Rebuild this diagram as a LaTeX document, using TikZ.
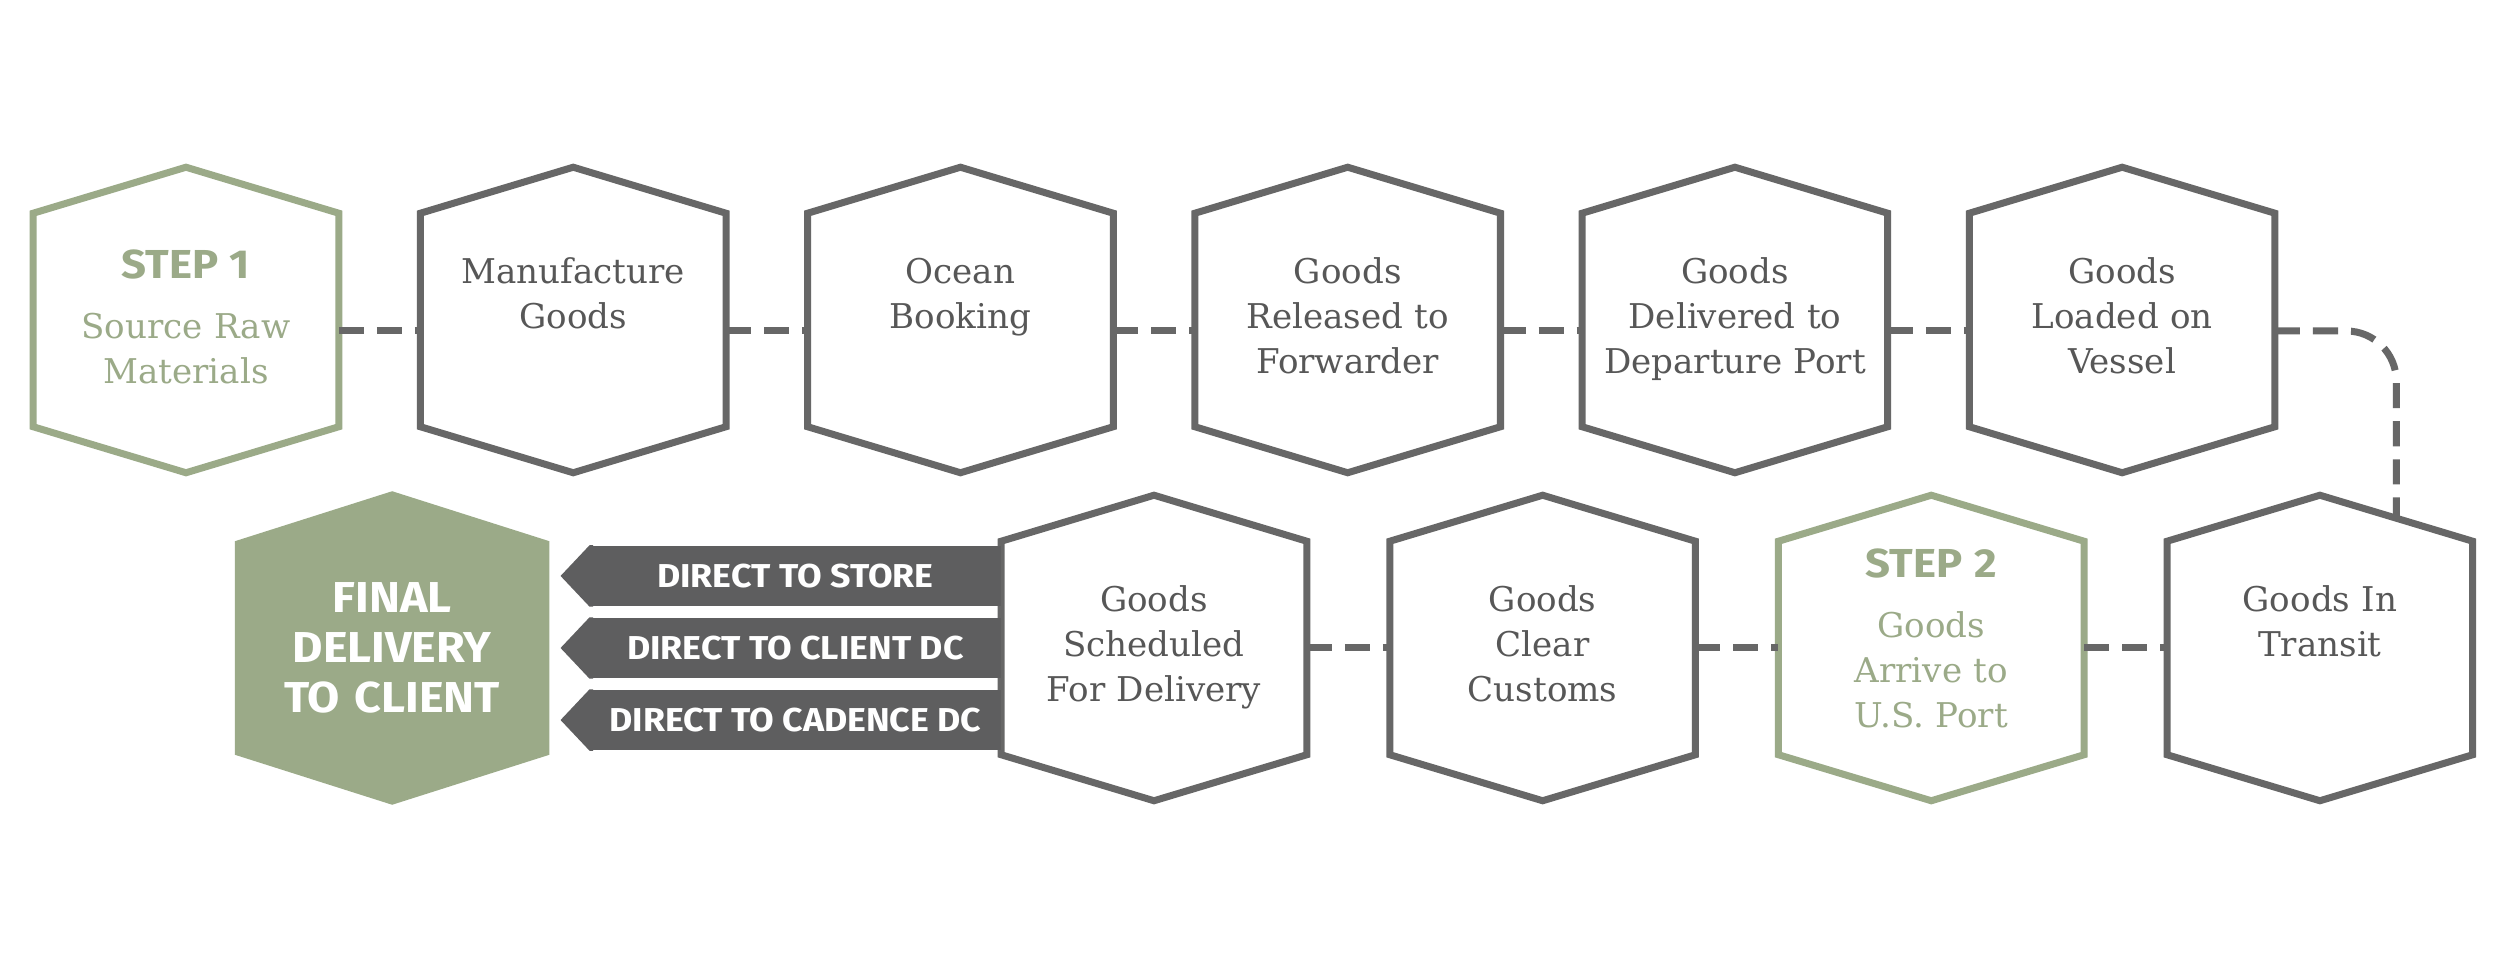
\documentclass[tikz,border=0pt]{standalone}
\usepackage{fontspec}
\setmainfont{DejaVu Serif}
\newfontfamily\capsfont{Fira Sans}[FakeStretch=1.08]
\usetikzlibrary{positioning,calc,backgrounds}

\definecolor{sage}{HTML}{9BAA88}
\definecolor{slate}{HTML}{676767}
\definecolor{bandgrey}{HTML}{5E5E5F}
\definecolor{inkgrey}{HTML}{575757}

\newcommand\stepfont{\capsfont\bfseries\fontsize{11.5}{12.8}\selectfont}

\begin{document}
\begin{tikzpicture}[x=0.01cm, y=0.01cm,
	hexnode/.style={rectangle, minimum width=3.04cm, minimum height=2.12cm, inner sep=0pt, text width=2.9cm, align=center},
	greynode/.style={hexnode, text=inkgrey, font=\fontsize{9.7}{12.76}\selectfont, text height=0.3cm, text depth=1.02cm},
	stepnode/.style={hexnode, text=sage, font=\fontsize{9.7}{12.76}\selectfont, text height=0.28cm},
	finalnode/.style={hexnode, minimum width=3.13cm, text=white, font=\capsfont\bfseries\fontsize{12.3}{14.2}\selectfont},
	bandnode/.style={rectangle, fill=bandgrey, text=white, minimum width=4.1cm, minimum height=0.6cm, inner sep=0pt, font=\capsfont\bfseries\fontsize{9.4}{10}\selectfont},
	hexline/.style={line width=0.07cm, line join=miter},
	link/.style={draw=slate, line width=0.07cm, dash pattern=on 0.25cm off 0.13cm},
	]
	\useasboundingbox (0,0) rectangle (2500,-968);
	
	%Nodes
	\node[stepnode, text depth=1.11cm] (src)     at (186,-320)              {{\stepfont STEP 1}\\[4.3pt]Source Raw\\Materials};
	\node[greynode]                    (manuf)   [right=0.816cm of src]     {Manufacture\\Goods};
	\node[greynode]                    (ocean)   [right=0.816cm of manuf]   {Ocean\\Booking};
	\node[greynode]                    (release) [right=0.816cm of ocean]   {Goods\\Released to\\Forwarder};
	\node[greynode]                    (depart)  [right=0.816cm of release] {Goods\\Delivered to\\Departure Port};
	\node[greynode]                    (loaded)  [right=0.816cm of depart]  {Goods\\Loaded on\\Vessel};
	
	\node[greynode]                    (sched)   at (1154,-648)             {Goods\\Scheduled\\For Delivery};
	\node[greynode]                    (customs) [right=0.83cm of sched]    {Goods\\Clear\\Customs};
	\node[stepnode, text depth=1.68cm] (arrive)  [right=0.83cm of customs]  {{\stepfont STEP 2}\\[4.3pt]Goods\\Arrive to\\U.S. Port};
	\node[greynode]                    (transit) [right=0.83cm of arrive]   {Goods In\\Transit};
	\node[finalnode]                   (final)   [left=4.515cm of sched]    {FINAL\\DELIVERY\\TO CLIENT};
	
	%Hexagons
	\begin{scope}[on background layer]
		\fill[white] (0,0) rectangle (2500,-968);
		\foreach \h/\c in {src/sage, manuf/slate, ocean/slate, release/slate, depart/slate, loaded/slate, sched/slate, customs/slate, arrive/sage, transit/slate}
			\draw[hexline, draw=\c] (\h.north west) -- ($(\h.north)+(0,46)$) -- (\h.north east) -- (\h.south east) -- ($(\h.south)+(0,-46)$) -- (\h.south west) -- cycle;
		\fill[sage] (final.north west) -- ($(final.north)+(0,50)$) -- (final.north east) -- (final.south east) -- ($(final.south)+(0,-50)$) -- (final.south west) -- cycle;
	\end{scope}
	
	%Bands
	\node[bandnode, anchor=east] (store)   at ([yshift=0.72cm]sched.west)  {DIRECT TO STORE};
	\node[bandnode, anchor=east] (client)  at (sched.west)                 {DIRECT TO CLIENT DC};
	\node[bandnode, anchor=east] (cadence) at ([yshift=-0.72cm]sched.west) {DIRECT TO CADENCE DC};
	\foreach \b in {store, client, cadence}
		\fill[bandgrey] ([xshift=1pt]\b.north west) -- (\b.north west) -- ($(\b.west)+(-29,0)$) -- (\b.south west) -- ([xshift=1pt]\b.south west) -- cycle;
	
	%Lines
	\draw[link] ([yshift=-0.11cm]src.east)     -- ([yshift=-0.11cm]manuf.west);
	\draw[link] ([yshift=-0.11cm]manuf.east)   -- ([yshift=-0.11cm]ocean.west);
	\draw[link] ([yshift=-0.11cm]ocean.east)   -- ([yshift=-0.11cm]release.west);
	\draw[link] ([yshift=-0.11cm]release.east) -- ([yshift=-0.11cm]depart.west);
	\draw[link] ([yshift=-0.11cm]depart.east)  -- ([yshift=-0.11cm]loaded.west);
	\draw[link, rounded corners=0.5cm] ([yshift=-0.11cm]loaded.east) -| ($(transit.north)!0.5!(transit.north east)+(0,23)$);
	\draw[link] (sched.east)   -- (customs.west);
	\draw[link] (customs.east) -- (arrive.west);
	\draw[link] (arrive.east)  -- (transit.west);
\end{tikzpicture}
\end{document}
